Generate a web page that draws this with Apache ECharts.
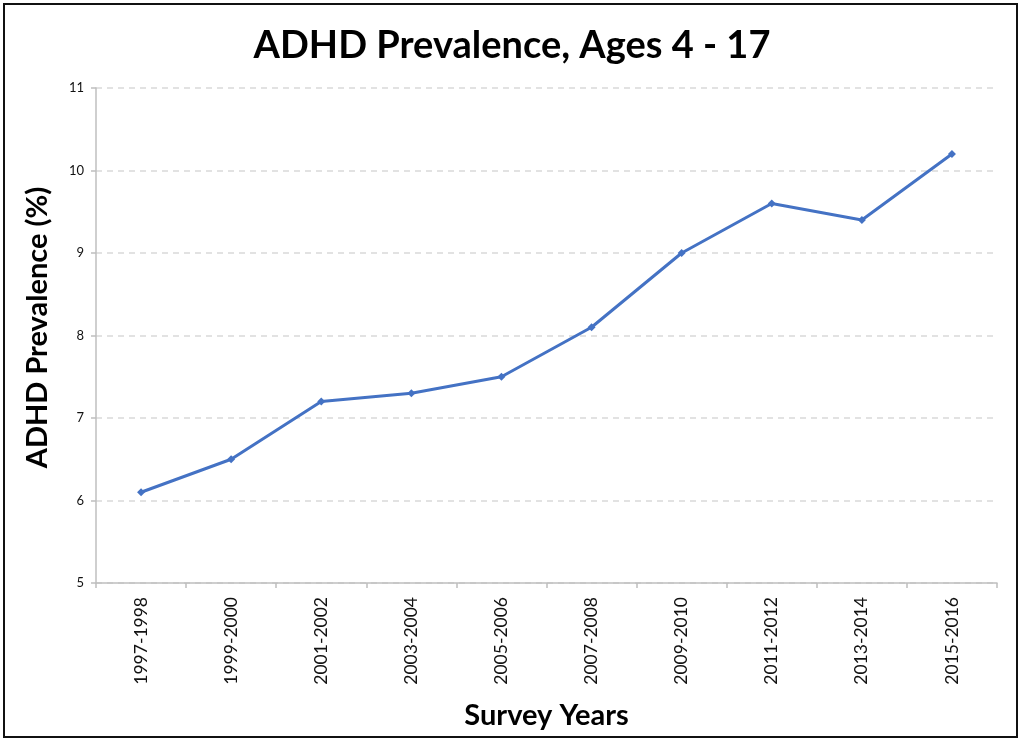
<!DOCTYPE html>
<html>
<head>
<meta charset="utf-8">
<script src="https://cdn.jsdelivr.net/npm/echarts@6/dist/echarts.min.js"></script>
<style>
html,body{margin:0;padding:0;background:#fff;}
#frame{position:absolute;left:3px;top:3px;width:1015px;height:735px;border:2px solid #111;box-sizing:border-box;pointer-events:none;z-index:2;}
#chart{position:absolute;left:0;top:0;width:1024px;height:742px;}
</style>
</head>
<body>
<div id="chart"></div>
<div id="frame"></div>
<script>
const titleText = 'ADHD Prevalence, Ages 4 - 17';
const xAxisName = 'Survey Years';
const yAxisName = 'ADHD Prevalence (%)';
const categories = ['1997-1998','1999-2000','2001-2002','2003-2004','2005-2006','2007-2008','2009-2010','2011-2012','2013-2014','2015-2016'];
const prevalence = [6.1, 6.5, 7.2, 7.3, 7.5, 8.1, 9.0, 9.6, 9.4, 10.2];
const yMin = 5, yMax = 11, yStep = 1;

const chart = echarts.init(document.getElementById('chart'));
chart.setOption({
  backgroundColor: '#fff',
  animation: false,
  title: {
    text: titleText,
    left: 'center',
    top: 22,
    textStyle: {fontFamily: 'Lato', fontWeight: 'bold', fontSize: 38, color: '#000'}
  },
  grid: {left: 96, right: 27, top: 88, bottom: 159, containLabel: false},
  xAxis: {
    type: 'category',
    data: categories,
    boundaryGap: true,
    name: xAxisName,
    nameLocation: 'middle',
    nameGap: 118,
    nameTextStyle: {fontFamily: 'Lato', fontWeight: 'bold', fontSize: 29, color: '#000'},
    axisLine: {lineStyle: {color: '#bfbfbf', width: 1.5}},
    axisTick: {show: true, alignWithLabel: false, length: 5, lineStyle: {color: '#bfbfbf', width: 1.5}},
    axisLabel: {rotate: 90, margin: 14, fontFamily: 'Lato', fontSize: 17.5, color: '#111'}
  },
  yAxis: {
    type: 'value',
    min: yMin, max: yMax, interval: yStep,
    name: yAxisName,
    nameLocation: 'middle',
    nameGap: 44,
    nameTextStyle: {fontFamily: 'Lato', fontWeight: 'bold', fontSize: 29, color: '#000', padding: [0, 0, 0, 16]},
    axisLine: {show: true, lineStyle: {color: '#bfbfbf', width: 1.5}},
    axisTick: {show: true, length: 5, lineStyle: {color: '#bfbfbf', width: 1.5}},
    axisLabel: {margin: 12, fontFamily: 'Lato', fontSize: 13, color: '#111'},
    splitLine: {show: true, lineStyle: {color: '#d9d9d9', type: [6, 5], width: 1.5}}
  },
  series: [{
    type: 'line',
    data: prevalence,
    symbol: 'diamond',
    symbolSize: 8,
    lineStyle: {color: '#4472C4', width: 3},
    itemStyle: {color: '#4472C4'}
  }]
});
</script>
</body>
</html>
